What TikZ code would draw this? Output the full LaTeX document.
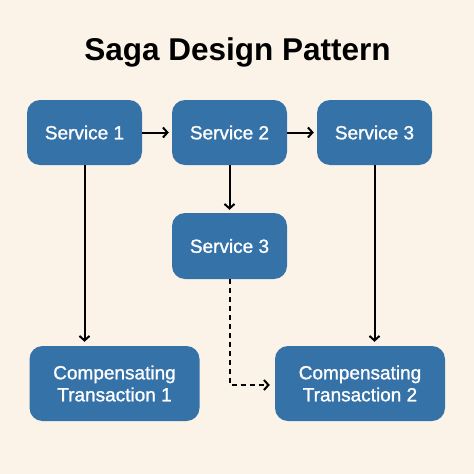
\documentclass[tikz,border=0pt]{standalone}
\usepackage{fontspec}
\setmainfont{Liberation Sans}
\newfontfamily\boxfont[FakeBold=1.2]{Liberation Sans}
\usetikzlibrary{arrows.meta}
\definecolor{sagabg}{HTML}{FBF3E8}
\definecolor{sagablue}{HTML}{3572A8}

\begin{document}
\begin{tikzpicture}[x=1pt,y=-1pt,
		svc/.style={rectangle,rounded corners=13pt,fill=sagablue,text=white,
			minimum width=115pt,minimum height=65pt,inner sep=0pt,
			font=\boxfont\fontsize{19}{22}\selectfont},
		comp/.style={svc,minimum width=170pt,minimum height=75pt,align=center},
		flow/.style={line width=2pt,-{Straight Barb[length=4.5pt,width=10pt,line width=2pt]}}]
		\fill[sagabg] (0,0) rectangle (474,474);
		\useasboundingbox (0,0) rectangle (474,474);
		\node[anchor=base,font=\fontsize{31.5}{36}\selectfont\bfseries] (title) at (237.5,60) {Saga Design Pattern};
		% top row
		\node[svc] (s1) at (84.5,132.5) {Service 1};
		\node[svc] (s2) at (229.5,132.5) {Service 2};
		\node[svc] (s3) at (374.5,132.5) {Service 3};
		\node[svc,minimum height=66pt] (s4) at (229.5,246) {Service 3};
		% compensations
		\node[comp] (c1) at (114.5,383.5) {Compensating\\Transaction 1};
		\node[comp] (c2) at (360,383.5) {Compensating\\Transaction 2};
		\draw[flow,shorten >=3pt] (s1) -- (s2);
		\draw[flow,shorten >=3pt] (s2) -- (s3);
		\draw[flow,shorten >=3pt] (s2) -- (s4);
		\draw[flow,shorten >=4pt] (s1) -- (s1 |- c1.north);
		\draw[flow,shorten >=4pt] (s3) -- (s3 |- c2.north);
		\draw[flow,dash pattern=on 5pt off 4pt,shorten >=5pt] (s4.south) |- ([yshift=-1.5pt]c2.west);
		\end{tikzpicture}
\end{document}
